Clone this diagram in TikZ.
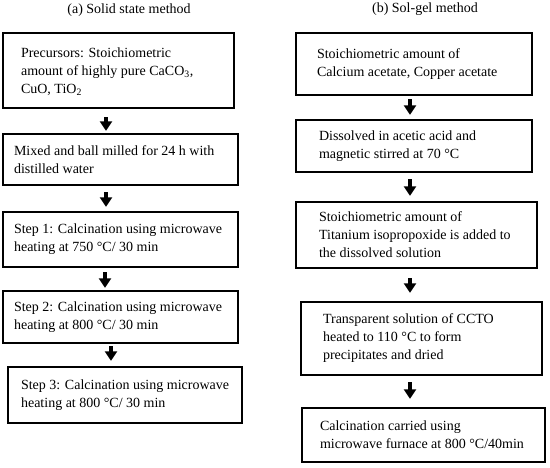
\documentclass[tikz,border=0pt]{standalone}
\usepackage{fontspec}
\setmainfont{Liberation Serif}
\usetikzlibrary{arrows.meta}
\tikzset{
  box/.style={draw=black, line width=2.3pt, rectangle, inner sep=0pt},
  txt/.style={anchor=west, align=left, inner sep=0pt, font=\fontsize{14}{18}\selectfont},
  ttl/.style={inner sep=0pt, font=\fontsize{14}{18}\selectfont},
  blk/.style={line width=4.5pt, -{Triangle[width=12pt,length=9.5pt]}}
}
\begin{document}
\begin{tikzpicture}[x=1pt,y=-1pt]
\useasboundingbox (0,0) rectangle (550,468);
% titles
\node[ttl] (ta) at (129,10) {(a) Solid state method};
\node[ttl] (tb) at (425,9) {(b) Sol-gel method};
% left column
\node[box, minimum width=231pt, minimum height=75pt] (L1) at (118.5,70.5) {};
\node[txt] (L1t) at ([xshift=19pt,yshift=-1pt]L1.west) {Precursors: Stoichiometric\\amount of highly pure CaCO\textsubscript{3},\\CuO, TiO\textsubscript{2}};
\node[box, minimum width=235pt, minimum height=51pt] (L2) at (120.5,159.5) {};
\node[txt] (L2t) at ([xshift=12pt]L2.west) {Mixed and ball milled for 24 h with\\distilled water};
\node[box, minimum width=235pt, minimum height=55pt] (L3) at (120.5,239.5) {};
\node[txt] (L3t) at ([xshift=12pt]L3.west) {Step 1: Calcination using microwave\\heating at 750 °C/ 30 min};
\node[box, minimum width=235pt, minimum height=52pt] (L4) at (120.5,317) {};
\node[txt] (L4t) at ([xshift=12pt]L4.west) {Step 2: Calcination using microwave\\heating at 800 °C/ 30 min};
\node[box, minimum width=234pt, minimum height=56pt] (L5) at (125,395) {};
\node[txt] (L5t) at ([xshift=14pt]L5.west) {Step 3: Calcination using microwave\\heating at 800 °C/ 30 min};
% right column
\node[box, minimum width=236pt, minimum height=62pt] (R1) at (414,64) {};
\node[txt] (R1t) at ([xshift=22pt]R1.west) {Stoichiometric amount of\\Calcium acetate, Copper acetate};
\node[box, minimum width=236pt, minimum height=52pt] (R2) at (414,146) {};
\node[txt] (R2t) at ([xshift=24pt]R2.west) {Dissolved in acetic acid and\\magnetic stirred at 70 °C};
\node[box, minimum width=241pt, minimum height=66pt] (R3) at (416.5,235) {};
\node[txt] (R3t) at ([xshift=24pt]R3.west) {Stoichiometric amount of\\Titanium isopropoxide is added to\\the dissolved solution};
\node[box, minimum width=241pt, minimum height=73pt] (R4) at (421.5,338.5) {};
\node[txt] (R4t) at ([xshift=23pt]R4.west) {Transparent solution of CCTO\\heated to 110 °C to form\\precipitates and dried};
\node[box, minimum width=243pt, minimum height=54pt] (R5) at (423.5,435) {};
\node[txt] (R5t) at ([xshift=19pt]R5.west) {Calcination carried using\\microwave furnace at 800 °C/40min};
% arrows left
\draw[blk] ([xshift=-12.5pt,yshift=-8pt]L1.south) -- ([xshift=-14.5pt,yshift=2pt]L2.north);
\draw[blk] ([xshift=-14.5pt,yshift=-6pt]L2.south) -- ([xshift=-14.5pt,yshift=4pt]L3.north);
\draw[blk] ([xshift=-15.5pt,yshift=-4pt]L3.south) -- ([xshift=-15.5pt,yshift=2pt]L4.north);
\draw[blk] ([xshift=-9.5pt,yshift=-2pt]L4.south) -- ([xshift=-14pt,yshift=5pt]L5.north);
% arrows right
\draw[blk] ([xshift=-4pt,yshift=-3pt]R1.south) -- ([xshift=-4pt,yshift=4pt]R2.north);
\draw[blk] ([xshift=-4pt,yshift=-6pt]R2.south) -- ([xshift=-6.5pt,yshift=5pt]R3.north);
\draw[blk] ([xshift=-6.5pt,yshift=-9pt]R3.south) -- ([xshift=-11.5pt,yshift=8pt]R4.north);
\draw[blk] ([xshift=-11.5pt,yshift=-6pt]R4.south) -- ([xshift=-13.5pt,yshift=8pt]R5.north);
\end{tikzpicture}
\end{document}
